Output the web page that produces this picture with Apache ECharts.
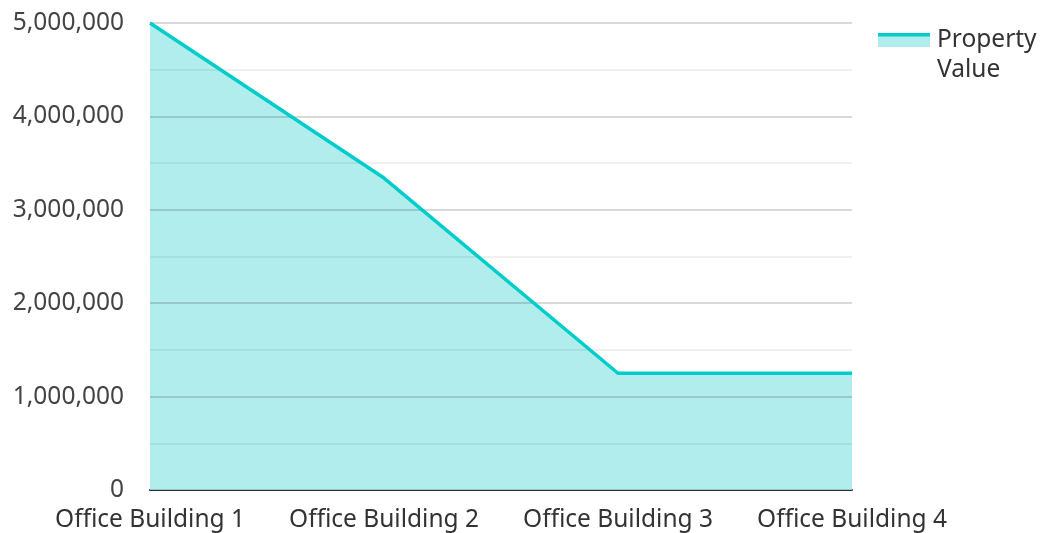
<!DOCTYPE html>
<html><head><meta charset="utf-8">
<script src="https://cdn.jsdelivr.net/npm/echarts@6/dist/echarts.min.js"></script>
<style>html,body{margin:0;padding:0;background:#fff}#c{width:1041px;height:533px}</style>
</head><body><div id="c"></div>
<script>
const categories = ['Office Building 1', 'Office Building 2', 'Office Building 3', 'Office Building 4'];
const propertyValue = [5000000, 3340000, 1250000, 1250000];
const seriesName = 'Property Value';
const yTicks = { min: 0, max: 5000000, interval: 1000000 };

const font = 'Noto Sans';
const chart = echarts.init(document.getElementById('c'), null, { renderer: 'canvas' });
chart.setOption({
  animation: false,
  grid: { left: 150, right: 189, top: 23, bottom: 43, containLabel: false },
  legend: {
    left: 875, top: 20, orient: 'vertical',
    itemWidth: 52, itemHeight: 14, itemGap: 7,
    icon: 'rect',
    data: [{ name: seriesName, itemStyle: { color: 'rgba(0,0,0,0)' } }],
    formatter: () => 'Property\nValue',
    textStyle: { fontFamily: font, fontSize: 24.5, color: '#333', lineHeight: 30 }
  },
  xAxis: {
    type: 'category', data: categories, boundaryGap: false,
    axisLine: { show: true, lineStyle: { color: '#333', width: 2 } },
    axisTick: { show: false },
    axisLabel: { fontFamily: font, fontSize: 24.5, color: '#333', margin: 18, showMaxLabel: true, showMinLabel: true, interval: 0 },
    splitLine: { show: false }
  },
  yAxis: {
    type: 'value', min: yTicks.min, max: yTicks.max, interval: yTicks.interval, z: 2,
    axisLine: { show: false }, axisTick: { show: false },
    axisLabel: { fontFamily: font, fontSize: 24.5, color: '#444', margin: 26,
      formatter: v => v.toLocaleString('en-US') },
    splitLine: { show: true, lineStyle: { color: 'rgba(0,0,0,0.2)', width: 1.5 } },
    minorTick: { show: false, splitNumber: 2 },
    minorSplitLine: { show: true, lineStyle: { color: 'rgba(0,0,0,0.08)', width: 1.5 } }
  },
  series: [
    { name: seriesName, type: 'line', data: propertyValue, z: 1, symbol: 'none',
      lineStyle: { width: 0, opacity: 0 }, areaStyle: { color: '#b2eded', opacity: 1 }, itemStyle: { color: '#b2eded' } },
    { name: 'line', type: 'line', data: propertyValue, z: 3, symbol: 'none',
      lineStyle: { width: 3.5, color: '#00cccc' }, itemStyle: { color: '#00cccc' } }
  ]
});
chart.setOption({ graphic: [
  { type: 'rect', left: 878, top: 33, shape: { width: 52, height: 14 }, style: { fill: '#b2eded' }, z: 99 },
  { type: 'rect', left: 878, top: 33, shape: { width: 52, height: 3.5 }, style: { fill: '#00cccc' }, z: 100 }
] });
</script></body></html>
